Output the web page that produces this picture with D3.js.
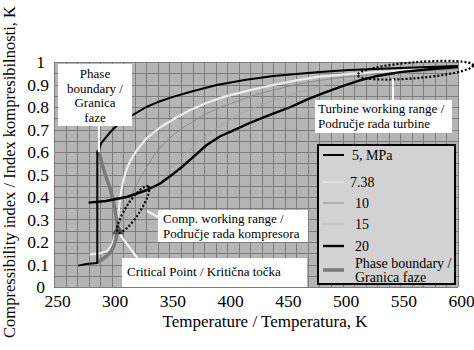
<!DOCTYPE html>
<html>
<head>
<meta charset="utf-8">
<script src="https://cdn.jsdelivr.net/npm/d3@7"></script>
<style>
  html, body { margin: 0; padding: 0; background: #fff; }
  svg { display: block; }
  text { font-family: "Liberation Serif", "Times New Roman", serif; fill: #000; }
</style>
</head>
<body>
<svg id="chart" width="474" height="350"></svg>
<script>
// CO2 compressibility index K versus temperature, for several pressures (MPa)
const xTicks = [250, 300, 350, 400, 450, 500, 550, 600];
const yTicks = [0, 0.1, 0.2, 0.3, 0.4, 0.5, 0.6, 0.7, 0.8, 0.9, 1];
const yTickLabels = ["0", "0.1", "0.2", "0.3", "0.4", "0.5", "0.6", "0.7", "0.8", "0.9", "1"];

const seriesNames = ["5, MPa", "7.38", "10", "15", "20"];

// [temperature K, compressibility index]
const p5 = [[271,0.095],[278,0.102],[287.5,0.107],[287.5,0.6],[289,0.61],[291,0.64],[295,0.665],[299,0.69],
  [305,0.72],[312,0.745],[320,0.77],[330,0.8],[340,0.822],[353,0.845],[370,0.87],[391,0.898],[415,0.92],
  [440,0.938],[480,0.956],[506,0.964],[550,0.973],[600,0.982]];
const p738 = [[281,0.145],[290,0.15],[296,0.16],[300,0.185],[303,0.23],[305,0.29],[307,0.38],[309,0.45],
  [312,0.51],[316,0.56],[322,0.61],[330,0.66],[342,0.71],[355,0.75],[368,0.787],[383,0.82],[397,0.845],
  [420,0.875],[440,0.898],[460,0.918],[480,0.935],[510,0.948],[550,0.962],[600,0.975]];
const p10 = [[302,0.22],[306,0.27],[310,0.32],[314,0.37],[318,0.42],[324,0.48],[330,0.53],[336,0.58],
  [342,0.62],[353,0.675],[365,0.72],[382,0.77],[395,0.8],[411,0.83],[425,0.855],[440,0.875],[460,0.9],
  [480,0.918],[510,0.938],[550,0.955],[600,0.97]];
const p15 = [[303,0.27],[310,0.3],[320,0.34],[330,0.39],[340,0.45],[350,0.52],[360,0.57],[370,0.62],
  [382,0.675],[395,0.72],[411,0.77],[425,0.8],[440,0.83],[460,0.862],[480,0.893],[500,0.913],[525,0.932],
  [550,0.948],[575,0.96],[600,0.97]];
const p20 = [[280,0.375],[295,0.382],[313,0.4],[330,0.43],[342,0.46],[350,0.49],[360,0.53],[370,0.575],
  [382,0.63],[394,0.67],[405,0.695],[420,0.73],[437,0.765],[455,0.8],[470,0.835],[485,0.865],[500,0.893],
  [515,0.918],[530,0.938],[550,0.955],[575,0.968],[600,0.978]];
const phaseBoundary = [[288,0.61],[290,0.58],[292,0.54],[295,0.49],[298.5,0.44],[301,0.39],[303,0.34],
  [304.5,0.29],[305,0.26],[304,0.22],[302,0.185],[299,0.155],[295,0.135],[291,0.12],[287.5,0.11]];
const criticalPoint = [305.5, 0.25];

// working-range outlines: end points along the major axis [T, K]
const compressorRange = [[305.5, 0.243], [331.5, 0.447]];
const turbineRange = [[513, 0.942], [613, 0.985]];

const svg = d3.select("#chart");
const W = 474, H = 350;
const m = { left: 54, right: 16, top: 62, bottom: 63 };

const x = d3.scaleLinear().domain([250, 600]).range([m.left, W - m.right]);
const y = d3.scaleLinear().domain([0, 1]).range([H - m.bottom, m.top]);

// plot background
svg.append("rect")
  .attr("x", x(250)).attr("y", y(1))
  .attr("width", x(600) - x(250)).attr("height", y(0) - y(1))
  .attr("fill", "#b5b5b5");

// grid
const grid = svg.append("g").attr("stroke", "#7d7d7d").attr("stroke-width", 1);
grid.selectAll("line.v").data(d3.range(250, 601, 10)).join("line")
  .attr("x1", d => Math.round(x(d)) + 0.5).attr("x2", d => Math.round(x(d)) + 0.5)
  .attr("y1", y(1)).attr("y2", y(0));
grid.selectAll("line.h").data(d3.range(0, 21).map(i => i * 0.05)).join("line")
  .attr("y1", d => Math.round(y(d)) + 0.5).attr("y2", d => Math.round(y(d)) + 0.5)
  .attr("x1", x(250)).attr("x2", x(600));

// axes (labels only)
const xAxis = d3.axisBottom(x).tickValues(xTicks).tickSize(0).tickPadding(8);
const gx = svg.append("g").attr("transform", `translate(3,${y(0)})`).call(xAxis);
gx.select(".domain").remove();
gx.selectAll("text").attr("font-size", 17.5).attr("fill", "#000");

const yAxis = d3.axisLeft(y).tickValues(yTicks).tickFormat((d, i) => yTickLabels[i]).tickSize(0).tickPadding(5);
const gy = svg.append("g").attr("transform", `translate(${x(250)},0)`).call(yAxis);
gy.select(".domain").remove();
gy.selectAll("text").attr("font-size", 17.5).attr("fill", "#000")
  .attr("dx", (d, i) => yTickLabels[i].length === 1 ? -4 : 0);

// axis titles
svg.append("text")
  .attr("x", 265).attr("y", 327)
  .attr("text-anchor", "middle").attr("font-size", 17)
  .text("Temperature / Temperatura, K");
svg.append("text")
  .attr("transform", "translate(15,172) rotate(-90)")
  .attr("text-anchor", "middle").attr("font-size", 16.5)
  .text("Compressibility index / Index kompresibilnosti, K");

const line = d3.line().x(d => x(d[0])).y(d => y(d[1]));
const plot = svg.append("g");

const styles = [
  { data: p738, color: "#ececec", width: 2.2 },
  { data: p15, color: "#a6a6a6", width: 1 },
  { data: p10, color: "#8c8c8c", width: 1 },
  { data: phaseBoundary, color: "#7a7a7a", width: 3.5 },
  { data: p20, color: "#000", width: 2.4 },
  { data: p5, color: "#000", width: 2 }
];
plot.selectAll("path.series").data(styles).join("path")
  .attr("class", "series")
  .attr("d", d => line(d.data))
  .attr("fill", "none")
  .attr("stroke", d => d.color)
  .attr("stroke-width", d => d.width)
  .attr("stroke-linejoin", "round");

// critical point marker
const cx = x(criticalPoint[0]), cy = y(criticalPoint[1]);
plot.append("path")
  .attr("d", d3.symbol(d3.symbolTriangle, 60)())
  .attr("transform", `translate(${cx},${cy})`)
  .attr("fill", "#555");

// dotted working-range outlines
function rangeEllipse(ends, halfWidthPx) {
  const ax = x(ends[0][0]), ay = y(ends[0][1]);
  const bx = x(ends[1][0]), by = y(ends[1][1]);
  const mx = (ax + bx) / 2, my = (ay + by) / 2;
  const rx = Math.hypot(bx - ax, by - ay) / 2;
  const ang = Math.atan2(by - ay, bx - ax) * 180 / Math.PI;
  svg.append("ellipse")
    .attr("cx", 0).attr("cy", 0).attr("rx", rx).attr("ry", halfWidthPx)
    .attr("transform", `translate(${mx},${my}) rotate(${ang})`)
    .attr("fill", "none").attr("stroke", "#000")
    .attr("stroke-width", 2.2).attr("stroke-dasharray", "2,2");
}
rangeEllipse(compressorRange, 7);
rangeEllipse(turbineRange, 8);

// annotation boxes with white leader lines
const ann = svg.append("g");
function leader(x1, y1, x2, y2) {
  ann.append("line").attr("x1", x1).attr("y1", y1).attr("x2", x2).attr("y2", y2)
    .attr("stroke", "#fff").attr("stroke-width", 2);
}
function box(bx, by, bw, bh, lines, tx, ty, lh, anchor) {
  ann.append("rect").attr("x", bx).attr("y", by).attr("width", bw).attr("height", bh).attr("fill", "#fff");
  const t = ann.append("text").attr("font-size", 13).attr("text-anchor", anchor || "start");
  lines.forEach((s, i) => t.append("tspan").attr("x", tx).attr("y", ty + i * lh).text(s));
}

leader(99, 126, x(289), y(0.6));
box(58, 64, 74, 62, ["Phase", "boundary /", "Granica", "faze"], 95, 78, 14.5, "middle");

leader(393, 100, 393, 79);
box(315, 100, 137, 33, ["Turbine working range /", "Područje rada turbine"], 318, 113, 15);

leader(147, 211, 160, 218);
box(158, 210, 150, 32, ["Comp. working range /", "Područje rada kompresora"], 163, 223, 14.5);

leader(cx + 2, cy + 4, 138, 259);
box(122, 258, 185, 29, ["Critical Point / Kritična točka"], 127, 276, 0);

// legend
const lg = svg.append("g");
lg.append("rect").attr("x", 318).attr("y", 145).attr("width", 137).attr("height", 139)
  .attr("fill", "#d2d2d2").attr("stroke", "#000").attr("stroke-width", 2);
const legendItems = [
  { label: [seriesNames[0]], color: "#000", width: 2, ly: 155, tx: 352 },
  { label: [seriesNames[1]], color: "#e2e2e2", width: 2, ly: 182, tx: 350 },
  { label: [seriesNames[2]], color: "#8c8c8c", width: 1, ly: 203, tx: 355 },
  { label: [seriesNames[3]], color: "#b8b8b8", width: 1, ly: 224, tx: 355 },
  { label: [seriesNames[4]], color: "#000", width: 2.4, ly: 246, tx: 355 },
  { label: ["Phase boundary /", "Granica faze"], color: "#7a7a7a", width: 3.5, ly: 270, tx: 355 }
];
legendItems.forEach(it => {
  lg.append("line").attr("x1", 323).attr("x2", 344).attr("y1", it.ly).attr("y2", it.ly)
    .attr("stroke", it.color).attr("stroke-width", it.width);
  const t = lg.append("text").attr("font-size", 14);
  if (it.label.length === 1) {
    t.append("tspan").attr("x", it.tx).attr("y", it.ly + 5).text(it.label[0]);
  } else {
    t.append("tspan").attr("x", it.tx).attr("y", it.ly - 2).text(it.label[0]);
    t.append("tspan").attr("x", it.tx).attr("y", it.ly + 12).text(it.label[1]);
  }
});
</script>
</body>
</html>
